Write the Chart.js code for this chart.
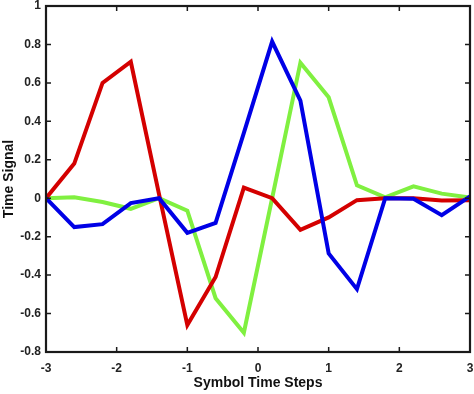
<!DOCTYPE html>
<html>
<head>
<meta charset="utf-8">
<script src="https://cdn.jsdelivr.net/npm/chart.js@4"></script>
<style>
    html, body { margin: 0; padding: 0; background: #fff; }
    #wrap { width: 474px; height: 394px; }
</style>
</head>
<body>
<div id="wrap"><canvas id="signalChart"></canvas></div>
<script>
// Pasos de tiempo del símbolo
const timeSteps = [-3, -2.6, -2.2, -1.8, -1.4, -1, -0.6, -0.2, 0.2, 0.6, 1, 1.4, 1.8, 2.2, 2.6, 3];

// Señales
const redSignal   = [0, 0.18, 0.60, 0.71, 0.02, -0.66, -0.41, 0.055, 0, -0.165, -0.10, -0.01, 0, 0, -0.012, -0.01];
const greenSignal = [0, 0.005, -0.02, -0.055, 0, -0.065, -0.52, -0.70, 0, 0.705, 0.525, 0.067, 0.005, 0.062, 0.024, 0.004];
const blueSignal  = [0, -0.15, -0.135, -0.025, 0, -0.18, -0.128, 0.34, 0.815, 0.508, -0.287, -0.473, 0, -0.003, -0.088, 0.01];

const xTicks = [-3, -2, -1, 0, 1, 2, 3];
const yTicks = [-0.8, -0.6, -0.4, -0.2, 0, 0.2, 0.4, 0.6, 0.8, 1];

function toPoints(values) {
    return timeSteps.map((x, i) => ({ x: x, y: values[i] }));
}

// Marco y marcas hacia dentro, estilo MATLAB
const boxPlugin = {
    id: 'boxPlugin',
    afterDatasetsDraw(chart) {
        const { ctx, chartArea: a, scales } = chart;
        const len = 5;
        ctx.save();
        ctx.strokeStyle = '#1a1a1a';
        ctx.lineWidth = 1.5;
        ctx.beginPath();
        xTicks.forEach(v => {
            const px = scales.x.getPixelForValue(v);
            ctx.moveTo(px, a.bottom); ctx.lineTo(px, a.bottom - len);
            ctx.moveTo(px, a.top); ctx.lineTo(px, a.top + len);
        });
        yTicks.forEach(v => {
            const py = scales.y.getPixelForValue(v);
            ctx.moveTo(a.left, py); ctx.lineTo(a.left + len, py);
            ctx.moveTo(a.right, py); ctx.lineTo(a.right - len, py);
        });
        ctx.stroke();
        ctx.lineWidth = 2.2;
        ctx.strokeRect(a.left, a.top, a.right - a.left, a.bottom - a.top);
        ctx.restore();
    }
};

const ctx = document.getElementById('signalChart').getContext('2d');
new Chart(ctx, {
    type: 'scatter',
    data: {
        datasets: [
            { label: 'blue', data: toPoints(blueSignal), borderColor: '#0000e6' },
            { label: 'red', data: toPoints(redSignal), borderColor: '#d40000' },
            { label: 'green', data: toPoints(greenSignal), borderColor: '#80f040' }
        ].map(ds => Object.assign(ds, {
            showLine: true,
            borderWidth: 4,
            pointRadius: 0,
            pointHoverRadius: 0,
            tension: 0
        }))
    },
    options: {
        responsive: true,
        maintainAspectRatio: false,
        animation: false,
        events: [],
        layout: { padding: { top: 6, right: 4, left: 0, bottom: 0 } },
        plugins: {
            legend: { display: false },
            tooltip: { enabled: false }
        },
        scales: {
            x: {
                type: 'linear',
                min: -3,
                max: 3,
                afterBuildTicks: scale => { scale.ticks = xTicks.map(v => ({ value: v })); },
                afterFit: scale => {
                    scale.height = 42;
                    scale.paddingLeft = 0;
                    scale.paddingRight = 0;
                },
                grid: { display: false, drawTicks: false },
                border: { display: false },
                ticks: {
                    color: '#222',
                    padding: 9,
                    maxRotation: 0,
                    font: { family: 'Liberation Sans, Arial', size: 12, weight: 'bold' }
                },
                title: {
                    display: true,
                    text: 'Symbol Time Steps',
                    color: '#111',
                    padding: { top: 0, bottom: 2 },
                    font: { family: 'Liberation Sans, Arial', size: 14, weight: 'bold' }
                }
            },
            y: {
                type: 'linear',
                min: -0.8,
                max: 1,
                afterBuildTicks: scale => { scale.ticks = yTicks.map(v => ({ value: v })); },
                afterFit: scale => {
                    scale.width = 46;
                    scale.paddingTop = 0;
                    scale.paddingBottom = 0;
                },
                grid: { display: false, drawTicks: false },
                border: { display: false },
                ticks: {
                    color: '#222',
                    padding: 5,
                    callback: v => (Math.round(v * 10) / 10).toString(),
                    font: { family: 'Liberation Sans, Arial', size: 12, weight: 'bold' }
                },
                title: {
                    display: true,
                    text: 'Time Signal',
                    color: '#111',
                    padding: { top: 1, bottom: 0 },
                    font: { family: 'Liberation Sans, Arial', size: 14, weight: 'bold' }
                }
            }
        }
    },
    plugins: [boxPlugin]
});
</script>
</body>
</html>
